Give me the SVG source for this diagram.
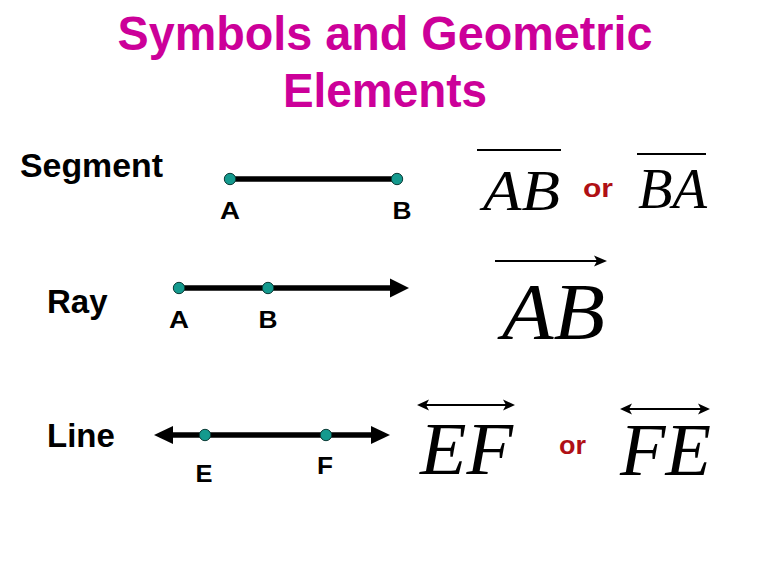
<svg xmlns="http://www.w3.org/2000/svg" width="768" height="576" viewBox="0 0 768 576">
  <defs>
    <style>
      .title { font-family: "Liberation Sans", Arial, sans-serif; font-weight: bold; font-size: 48px; fill: #CC0099; text-anchor: middle; }
      .name { font-family: "Liberation Sans", Arial, sans-serif; font-weight: bold; font-size: 33px; fill: #000; }
      .pt { font-family: "Liberation Sans", Arial, sans-serif; font-weight: bold; font-size: 24px; fill: #000; text-anchor: middle; }
      .or { font-family: "Liberation Sans", Arial, sans-serif; font-weight: bold; font-size: 25px; fill: #B01015; }
      .math { font-family: "Liberation Serif", "Times New Roman", serif; font-style: italic; fill: #000; }
      .thick { stroke: #000; stroke-width: 5.5; fill: none; }
      .thin { stroke: #000; stroke-width: 2; fill: none; }
      .dot { fill: #149A8E; stroke: #0B3B36; stroke-width: 1; }
      .head { fill: #000; }
    </style>
  </defs>
  <rect width="768" height="576" fill="#fff"/>

  <g id="title">
    <text class="title" x="385" y="50" textLength="535" lengthAdjust="spacingAndGlyphs">Symbols and Geometric</text>
    <text class="title" x="385" y="107" textLength="204" lengthAdjust="spacingAndGlyphs">Elements</text>
  </g>

  <g id="labels">
    <text class="name" x="20" y="177" textLength="143" lengthAdjust="spacingAndGlyphs">Segment</text>
    <text class="name" x="47" y="313">Ray</text>
    <text class="name" x="47" y="447">Line</text>
  </g>

  <g id="connectors">
    <!-- segment -->
    <line class="thick" x1="230" y1="179" x2="397" y2="179"/>
    <!-- ray -->
    <line class="thick" x1="179" y1="288" x2="393" y2="288"/>
    <polygon class="head" points="409,288 390,278.5 390,297.5"/>
    <!-- line -->
    <line class="thick" x1="170" y1="435" x2="374" y2="435"/>
    <polygon class="head" points="154,435 173,426 173,444"/>
    <polygon class="head" points="390,435 371,426 371,444"/>
  </g>

  <g id="segment-points">
    <circle class="dot" cx="230" cy="179" r="5.7"/>
    <circle class="dot" cx="397" cy="179" r="5.7"/>
    <text class="pt" x="230" y="219" textLength="20" lengthAdjust="spacingAndGlyphs">A</text>
    <text class="pt" x="402" y="219" textLength="19" lengthAdjust="spacingAndGlyphs">B</text>
  </g>

  <g id="ray-points">
    <circle class="dot" cx="179" cy="288" r="5.7"/>
    <circle class="dot" cx="268" cy="288" r="5.7"/>
    <text class="pt" x="179" y="328" textLength="20" lengthAdjust="spacingAndGlyphs">A</text>
    <text class="pt" x="268" y="328" textLength="19" lengthAdjust="spacingAndGlyphs">B</text>
  </g>

  <g id="line-points">
    <circle class="dot" cx="205" cy="435" r="5.7"/>
    <circle class="dot" cx="326" cy="435" r="5.7"/>
    <text class="pt" x="204" y="482" textLength="17" lengthAdjust="spacingAndGlyphs">E</text>
    <text class="pt" x="325" y="474" textLength="16" lengthAdjust="spacingAndGlyphs">F</text>
  </g>

  <g id="segment-notation">
    <line class="thin" x1="477" y1="150" x2="561" y2="150"/>
    <text class="math" x="483" y="210" font-size="58" textLength="77" lengthAdjust="spacingAndGlyphs">AB</text>
    <text class="or" x="583" y="197" textLength="30" lengthAdjust="spacingAndGlyphs">or</text>
    <line class="thin" x1="637" y1="154" x2="706" y2="154"/>
    <text class="math" x="638" y="208" font-size="56" textLength="69" lengthAdjust="spacingAndGlyphs">BA</text>
  </g>

  <g id="ray-notation">
    <line class="thin" x1="495" y1="261" x2="598" y2="261"/>
    <polygon class="head" points="607,261 594,255.5 597,261 594,266.5"/>
    <text class="math" x="502" y="339" font-size="80" textLength="103" lengthAdjust="spacingAndGlyphs">AB</text>
  </g>

  <g id="line-notation">
    <line class="thin" x1="424" y1="405" x2="508" y2="405"/>
    <polygon class="head" points="417,405 429,399.5 426,405 429,410.5"/>
    <polygon class="head" points="515,405 503,399.5 506,405 503,410.5"/>
    <text class="math" x="420" y="474" font-size="75" textLength="93" lengthAdjust="spacingAndGlyphs">EF</text>
    <text class="or" x="559" y="454" textLength="27" lengthAdjust="spacingAndGlyphs">or</text>
    <line class="thin" x1="627" y1="409" x2="703" y2="409"/>
    <polygon class="head" points="620,409 632,403.5 629,409 632,414.5"/>
    <polygon class="head" points="710,409 698,403.5 701,409 698,414.5"/>
    <text class="math" x="620" y="475" font-size="74" textLength="91" lengthAdjust="spacingAndGlyphs">FE</text>
  </g>
</svg>
